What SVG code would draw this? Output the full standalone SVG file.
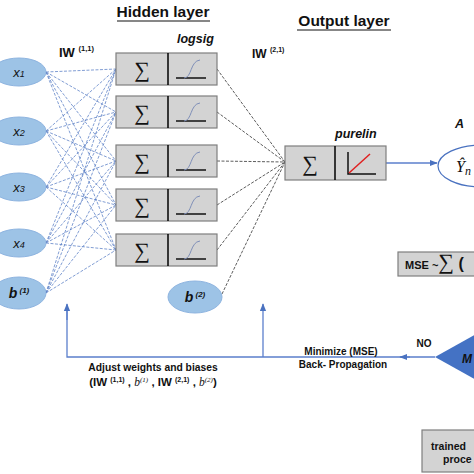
<svg xmlns="http://www.w3.org/2000/svg" width="474" height="474" viewBox="0 0 474 474">
<defs>
<style>
.inp{fill:#9dc3e6;stroke:#8eb4e0;stroke-width:1}
.box{fill:#d3d3d3;stroke:#7f7f7f;stroke-width:1.2}
.div{stroke:#000;stroke-width:1.5}
.w1{stroke:#4a72c0;stroke-width:0.7;stroke-dasharray:3 1.5;fill:none}
.w2{stroke:#333;stroke-width:0.8;stroke-dasharray:3 1.5;fill:none}
.fb{stroke:#5b7fcc;stroke-width:1.3;fill:none}
.sig{font-family:'Liberation Serif',serif;font-size:22px;fill:#111}
.t{font-family:'Liberation Sans',Arial,sans-serif;font-weight:bold;fill:#111}
.ti{font-family:'Liberation Serif',serif;font-style:italic;fill:#111}
.xi{font-family:'Liberation Sans',Arial,sans-serif;font-style:italic;fill:#111}
</style>
<marker id="ah" viewBox="0 0 10 10" refX="9" refY="5" markerWidth="6" markerHeight="6" orient="auto"><path d="M0,1 L10,5 L0,9 z" fill="#4a72c0"/></marker>
<g id="hbox">
<rect x="0" y="0" width="101" height="32" class="box"/>
<line x1="52" y1="0" x2="52" y2="32" class="div"/>
<text x="26" y="24" text-anchor="middle" class="sig">∑</text>
<line x1="60" y1="25" x2="90" y2="25" stroke="#111" stroke-width="1.5"/>
<path d="M68,25 C76,25 74,8 84,7" stroke="#7f8fb8" stroke-width="1" fill="none"/>
</g>
</defs>
<rect width="474" height="474" fill="#fff"/>

<g id="connectors">
<g id="w1">
<path class="w1" d="M46,72 L116,69 M46,72 L116,112 M46,72 L116,161 M46,72 L116,205 M46,72 L116,250"/>
<path class="w1" d="M46,131 L116,69 M46,131 L116,112 M46,131 L116,161 M46,131 L116,205 M46,131 L116,250"/>
<path class="w1" d="M46,187 L116,69 M46,187 L116,112 M46,187 L116,161 M46,187 L116,205 M46,187 L116,250"/>
<path class="w1" d="M46,243 L116,69 M46,243 L116,112 M46,243 L116,161 M46,243 L116,205 M46,243 L116,250"/>
<path class="w1" d="M46,293 L116,69 M46,293 L116,112 M46,293 L116,161 M46,293 L116,205 M46,293 L116,250"/>
</g>
<g id="w2">
<path class="w2" d="M217,69 L285,162 M217,112 L285,162 M217,161 L285,162 M217,205 L285,162 M217,250 L285,162 M222,294 L285,162"/>
</g>
<line x1="386" y1="163" x2="437" y2="163" class="fb" marker-end="url(#ah)"/>
<path class="fb" d="M435,357 L67,357 L67,305"/>
<line x1="67" y1="320" x2="67" y2="304" class="fb" marker-end="url(#ah)"/>
<line x1="263" y1="357" x2="263" y2="304" class="fb" marker-end="url(#ah)"/>
<line x1="410" y1="357" x2="400" y2="357" class="fb" marker-end="url(#ah)"/>
</g>

<g id="titles">
<text x="163" y="17" text-anchor="middle" class="t" font-size="15.5">Hidden layer</text>
<line x1="117" y1="21" x2="210" y2="21" stroke="#111" stroke-width="1.2"/>
<text x="344" y="26" text-anchor="middle" class="t" font-size="15.5">Output layer</text>
<line x1="297" y1="30" x2="391" y2="30" stroke="#111" stroke-width="1.2"/>
<text x="59" y="57" class="t" font-size="13">IW <tspan font-size="7.5" dy="-6">(1,1)</tspan></text>
<text x="252" y="58" class="t" font-size="12">IW <tspan font-size="7" dy="-6">(2,1)</tspan></text>
<text x="177" y="43" class="t" font-size="12.5" font-style="italic">logsig</text>
<text x="335" y="138" class="t" font-size="12.5" font-style="italic">purelin</text>
<text x="455" y="128" class="t" font-size="12.5" font-style="italic">A</text>
</g>

<g id="x1"><ellipse cx="19" cy="72" rx="27" ry="14" class="inp"/><text x="19" y="77" text-anchor="middle" class="xi" font-size="13">x<tspan font-size="9">1</tspan></text></g>
<g id="x2"><ellipse cx="19" cy="131" rx="27" ry="14" class="inp"/><text x="19" y="136" text-anchor="middle" class="xi" font-size="13">x<tspan font-size="9">2</tspan></text></g>
<g id="x3"><ellipse cx="19" cy="187" rx="27" ry="14" class="inp"/><text x="19" y="192" text-anchor="middle" class="xi" font-size="13">x<tspan font-size="9">3</tspan></text></g>
<g id="x4"><ellipse cx="19" cy="243" rx="27" ry="14" class="inp"/><text x="19" y="248" text-anchor="middle" class="xi" font-size="13">x<tspan font-size="9">4</tspan></text></g>
<g id="b1"><ellipse cx="19" cy="293" rx="27" ry="16" class="inp"/><text x="19" y="298" text-anchor="middle" class="t" font-size="14" font-style="italic">b<tspan font-size="8" dy="-5"> (1)</tspan></text></g>
<g id="b2"><ellipse cx="195" cy="297" rx="27" ry="16" class="inp"/><text x="195" y="302" text-anchor="middle" class="t" font-size="14" font-style="italic">b<tspan font-size="8" dy="-5"> (2)</tspan></text></g>

<g id="h1"><use href="#hbox" x="116" y="53"/></g>
<g id="h2"><use href="#hbox" x="116" y="96"/></g>
<g id="h3"><use href="#hbox" x="116" y="145"/></g>
<g id="h4"><use href="#hbox" x="116" y="189"/></g>
<g id="h5"><use href="#hbox" x="116" y="234"/></g>

<g id="out">
<rect x="285" y="146" width="101" height="34" class="box"/>
<line x1="335" y1="146" x2="335" y2="180" class="div"/>
<text x="310" y="171" text-anchor="middle" class="sig">∑</text>
<path d="M348,152 L348,174 L376,174" stroke="#111" stroke-width="1.5" fill="none"/>
<line x1="349" y1="173" x2="370" y2="154" stroke="#e02020" stroke-width="1.5"/>
</g>

<g id="yhat">
<ellipse cx="482" cy="166" rx="44" ry="21" fill="#fff" stroke="#4a72c0" stroke-width="1.2"/>
<text x="456" y="172" class="ti" font-size="16">Ŷ<tspan font-size="12" dy="3">n</tspan></text>
</g>

<g id="mse">
<rect x="398" y="252" width="90" height="24" fill="#d3d3d3" stroke="#7f7f7f" stroke-width="1.2"/>
<text x="405" y="269" class="t" font-size="11">MSE ~<tspan class="sig" font-size="18" font-weight="normal">∑</tspan><tspan font-size="16"> (</tspan></text>
</g>

<g id="decision">
<polygon points="435,357 480,332 525,357 480,382" fill="#4472c4"/>
<text x="462" y="363" class="t" font-size="12" font-style="italic">M</text>
</g>

<g id="trained">
<rect x="422" y="430" width="70" height="42" fill="#d3d3d3" stroke="#7f7f7f" stroke-width="1.2"/>
<text x="431" y="450" class="t" font-size="10.5">trained</text>
<text x="443" y="463" class="t" font-size="10.5">proce</text>
</g>

<g id="labels">
<text x="424" y="347" text-anchor="middle" class="t" font-size="10">NO</text>
<text x="341" y="355" text-anchor="middle" class="t" font-size="10">Minimize (MSE)</text>
<text x="343" y="368" text-anchor="middle" class="t" font-size="10">Back- Propagation</text>
<text x="153" y="371" text-anchor="middle" class="t" font-size="10.3">Adjust weights and biases</text>
<text x="153" y="386" text-anchor="middle" class="t" font-size="11.5">(IW <tspan font-size="7" dy="-4">(1,1)</tspan><tspan dy="4"> , </tspan><tspan class="ti" font-weight="normal">b</tspan><tspan font-size="7" dy="-4" class="ti" font-weight="normal">(1)</tspan><tspan dy="4"> , IW </tspan><tspan font-size="7" dy="-4">(2,1)</tspan><tspan dy="4"> , </tspan><tspan class="ti" font-weight="normal">b</tspan><tspan font-size="7" dy="-4" class="ti" font-weight="normal">(2)</tspan><tspan dy="4">)</tspan></text>
</g>
</svg>
